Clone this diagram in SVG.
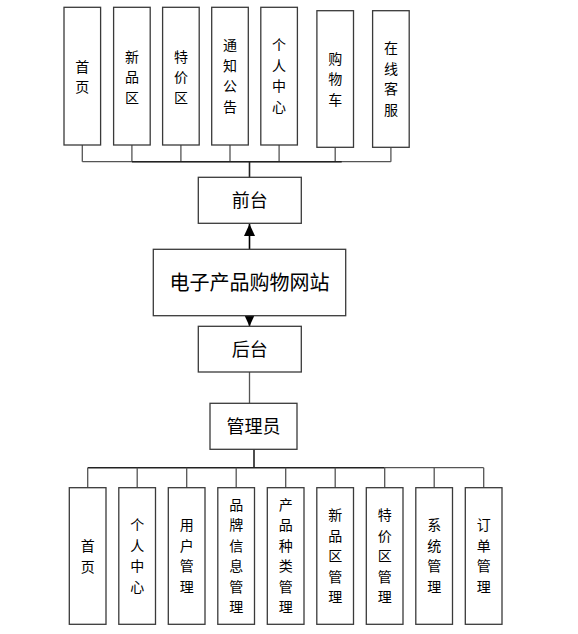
<svg xmlns="http://www.w3.org/2000/svg" width="578" height="634" viewBox="0 0 578 634">
<style>
rect{fill:#fff;stroke:#3a3a3a;stroke-width:1.3}
.c{fill:none;stroke:#555;stroke-width:1.3}
.b{fill:none;stroke:#222;stroke-width:1.6}
text{font-family:"Noto Sans CJK SC","Liberation Sans",sans-serif;fill:#000;text-anchor:middle}
.s{font-size:14px}
.m{font-size:18px}
.l{font-size:20px}
</style>
<defs>
<marker id="ah" viewBox="0 0 12 12" refX="12" refY="6" markerWidth="12" markerHeight="12" markerUnits="userSpaceOnUse" orient="auto"><path d="M0,0.5 L12,6 L0,11.5 Z" fill="#000"/></marker>
</defs>
<rect x="0" y="0" width="578" height="634" style="fill:#fff;stroke:none"/>
<g id="connectors">
<path class="c" d="M82.3,145 V161.7 M131.9,145 V161.7 M180.9,145 V161.7 M230,145 V161.7 M279.1,145 V161.7 M335.2,147.3 V161.7 M390.9,147.3 V161.7"/>
<path class="c" d="M82.3,161.7 H390.9"/>
<path class="b" d="M131.9,161.7 H341.7 M249.5,161.7 V177.3"/>
<line x1="249.5" y1="249.3" x2="249.5" y2="224" stroke="#000" stroke-width="1.6" marker-end="url(#ah)"/>
<line x1="249.5" y1="315.7" x2="249.5" y2="326.3" stroke="#000" stroke-width="1.6" marker-end="url(#ah)"/>
<path class="c" d="M249.5,372 V403.3"/>
<path class="b" d="M254,449.3 V467.7 M87.7,467.7 H384"/>
<path class="c" d="M384,467.7 H483.7"/>
<path class="c" d="M87.7,467.7 V487.7 M137.2,467.7 V487.7 M186.7,467.7 V487.7 M236.2,467.7 V487.7 M285.7,467.7 V487.7 M335.2,467.7 V487.7 M384.7,467.7 V487.7 M434.2,467.7 V487.7 M483.7,467.7 V487.7"/>
</g>
<g id="t1"><rect x="64" y="7.3" width="36.6" height="137.7"/><text class="s"><tspan x="82.3" y="71.7">首</tspan><tspan x="82.3" dy="20.5">页</tspan></text></g>
<g id="t2"><rect x="113.6" y="7.3" width="36.6" height="137.7"/><text class="s"><tspan x="131.9" y="61.5">新</tspan><tspan x="131.9" dy="20.5">品</tspan><tspan x="131.9" dy="20.5">区</tspan></text></g>
<g id="t3"><rect x="162.6" y="7.3" width="36.6" height="137.7"/><text class="s"><tspan x="180.9" y="61.5">特</tspan><tspan x="180.9" dy="20.5">价</tspan><tspan x="180.9" dy="20.5">区</tspan></text></g>
<g id="t4"><rect x="211.7" y="7.3" width="36.6" height="137.7"/><text class="s"><tspan x="230" y="50.2">通</tspan><tspan x="230" dy="20.5">知</tspan><tspan x="230" dy="20.5">公</tspan><tspan x="230" dy="20.5">告</tspan></text></g>
<g id="t5"><rect x="260.8" y="7.3" width="36.6" height="137.7"/><text class="s"><tspan x="279.1" y="50.2">个</tspan><tspan x="279.1" dy="20.5">人</tspan><tspan x="279.1" dy="20.5">中</tspan><tspan x="279.1" dy="20.5">心</tspan></text></g>
<g id="t6"><rect x="316.9" y="10.7" width="36.6" height="136.6"/><text class="s"><tspan x="335.2" y="63.7">购</tspan><tspan x="335.2" dy="20.5">物</tspan><tspan x="335.2" dy="20.5">车</tspan></text></g>
<g id="t7"><rect x="372.6" y="10.7" width="36.6" height="136.6"/><text class="s"><tspan x="390.9" y="53.2">在</tspan><tspan x="390.9" dy="20.5">线</tspan><tspan x="390.9" dy="20.5">客</tspan><tspan x="390.9" dy="20.5">服</tspan></text></g>
<g id="front"><rect x="198.3" y="177.3" width="103" height="46"/><text class="m" x="249.8" y="206.8">前台</text></g>
<g id="site"><rect x="153.3" y="249.3" width="192.4" height="66.4"/><text class="l" x="249.5" y="289.8">电子产品购物网站</text></g>
<g id="back"><rect x="198.3" y="326.3" width="103" height="45.7"/><text class="m" x="249.8" y="355.7">后台</text></g>
<g id="admin"><rect x="210" y="403.3" width="87" height="46"/><text class="m" x="253.5" y="432.8">管理员</text></g>
<g id="b1"><rect x="69.3" y="487.7" width="36.7" height="136.6"/><text class="s"><tspan x="87.7" y="551">首</tspan><tspan x="87.7" dy="20.5">页</tspan></text></g>
<g id="b2"><rect x="118.8" y="487.7" width="36.7" height="136.6"/><text class="s"><tspan x="137.2" y="530.2">个</tspan><tspan x="137.2" dy="20.5">人</tspan><tspan x="137.2" dy="20.5">中</tspan><tspan x="137.2" dy="20.5">心</tspan></text></g>
<g id="b3"><rect x="168.3" y="487.7" width="36.7" height="136.6"/><text class="s"><tspan x="186.7" y="530.2">用</tspan><tspan x="186.7" dy="20.5">户</tspan><tspan x="186.7" dy="20.5">管</tspan><tspan x="186.7" dy="20.5">理</tspan></text></g>
<g id="b4"><rect x="217.8" y="487.7" width="36.7" height="136.6"/><text class="s"><tspan x="236.2" y="509.7">品</tspan><tspan x="236.2" dy="20.5">牌</tspan><tspan x="236.2" dy="20.5">信</tspan><tspan x="236.2" dy="20.5">息</tspan><tspan x="236.2" dy="20.5">管</tspan><tspan x="236.2" dy="20.5">理</tspan></text></g>
<g id="b5"><rect x="267.3" y="487.7" width="36.7" height="136.6"/><text class="s"><tspan x="285.7" y="509.7">产</tspan><tspan x="285.7" dy="20.5">品</tspan><tspan x="285.7" dy="20.5">种</tspan><tspan x="285.7" dy="20.5">类</tspan><tspan x="285.7" dy="20.5">管</tspan><tspan x="285.7" dy="20.5">理</tspan></text></g>
<g id="b6"><rect x="316.8" y="487.7" width="36.7" height="136.6"/><text class="s"><tspan x="335.2" y="520">新</tspan><tspan x="335.2" dy="20.5">品</tspan><tspan x="335.2" dy="20.5">区</tspan><tspan x="335.2" dy="20.5">管</tspan><tspan x="335.2" dy="20.5">理</tspan></text></g>
<g id="b7"><rect x="366.3" y="487.7" width="36.7" height="136.6"/><text class="s"><tspan x="384.7" y="520">特</tspan><tspan x="384.7" dy="20.5">价</tspan><tspan x="384.7" dy="20.5">区</tspan><tspan x="384.7" dy="20.5">管</tspan><tspan x="384.7" dy="20.5">理</tspan></text></g>
<g id="b8"><rect x="415.8" y="487.7" width="36.7" height="136.6"/><text class="s"><tspan x="434.2" y="530.2">系</tspan><tspan x="434.2" dy="20.5">统</tspan><tspan x="434.2" dy="20.5">管</tspan><tspan x="434.2" dy="20.5">理</tspan></text></g>
<g id="b9"><rect x="465.3" y="487.7" width="36.7" height="136.6"/><text class="s"><tspan x="483.7" y="530.2">订</tspan><tspan x="483.7" dy="20.5">单</tspan><tspan x="483.7" dy="20.5">管</tspan><tspan x="483.7" dy="20.5">理</tspan></text></g>
</svg>
